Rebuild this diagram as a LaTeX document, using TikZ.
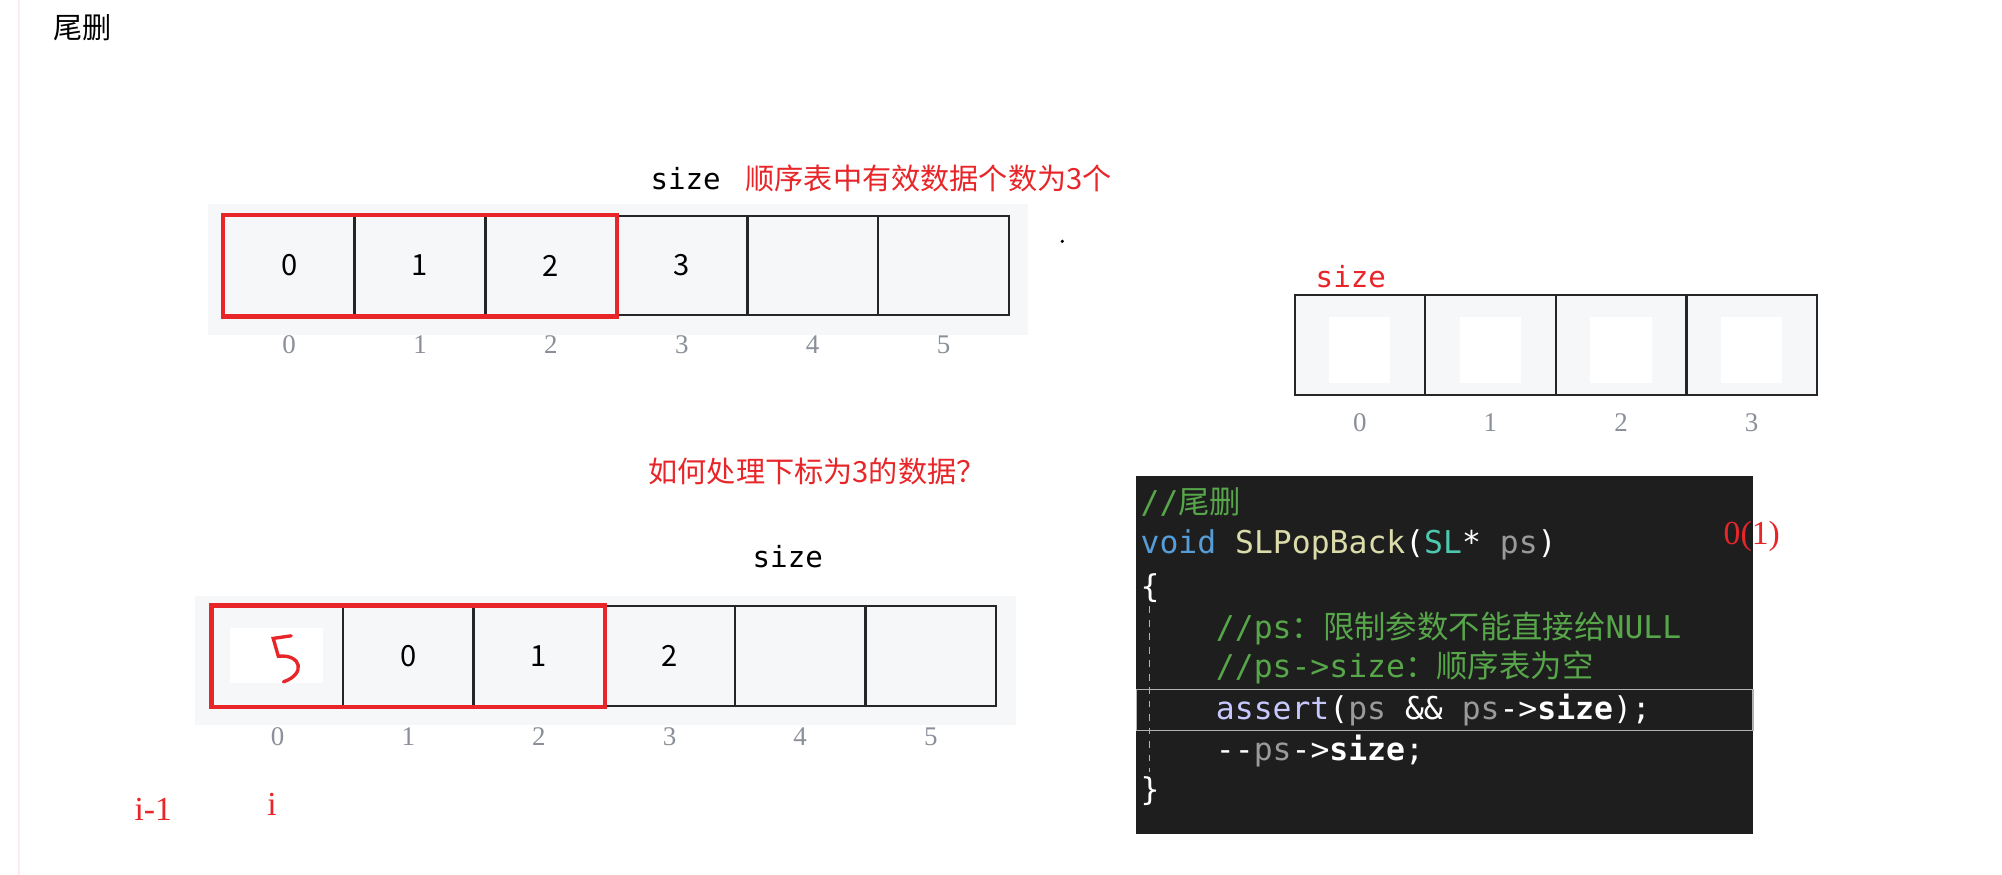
\documentclass[tikz,border=0pt]{standalone}
\usepackage{fontspec}
\setmainfont{Noto Sans CJK SC}
\setmonofont{DejaVu Sans Mono}
\newfontfamily\cjk{Noto Sans CJK SC}
\newfontfamily\serifnum{Liberation Serif}
\usetikzlibrary{positioning,calc}
\definecolor{redmark}{HTML}{E8262A}
\definecolor{cellbg}{HTML}{F6F7F9}
\definecolor{idxgray}{HTML}{8A8F99}
\definecolor{codebg}{HTML}{1E1E1E}
\definecolor{cmtgreen}{HTML}{57A64A}
\definecolor{kwblue}{HTML}{569CD6}
\definecolor{fnyellow}{HTML}{DCDCAA}
\definecolor{tyteal}{HTML}{4EC9B0}
\definecolor{parmgray}{HTML}{9A9A9A}
\definecolor{asrt}{HTML}{C8C8FF}
\tikzset{
  cell/.style={draw=black!85, line width=0.9pt, minimum width=2.04cm, minimum height=1.56cm, inner sep=0pt, font=\fontsize{13}{13}\selectfont},
  idx/.style={text=idxgray, font=\serifnum\fontsize{12}{12}\selectfont},
  redtxt/.style={text=redmark, font=\fontsize{13}{13}\selectfont},
  code/.style={anchor=west, inner sep=0pt, font=\ttfamily\fontsize{14}{14}\selectfont, text=white}
}
\begin{document}
\begin{tikzpicture}[x=0.02cm, y=-0.02cm]
\useasboundingbox (0,0) rectangle (1568,685);
\fill[white] (0,0) rectangle (1568,685);
\draw[red!8, line width=1pt] (15,0) -- (15,685);

\node (title) at (65,22) {\fontsize{13}{13}\selectfont 尾删};

% top array
\fill[cellbg] (163,160) rectangle (805,262);
\foreach \i/\v in {0/0,1/1,2/2,3/3,4/,5/} {
  \node[cell, fill=cellbg] (top\i) at (226.5+102.5*\i,208) {\v};
  \node[idx] (topi\i) at (226.5+102.5*\i,270) {\i};
}
\draw[redmark, line width=2pt] (top0.north west) rectangle (top2.south east);
\node (topsize) at (537,140) {\ttfamily\fontsize{13}{13}\selectfont size};
\node[redtxt, right=4pt of topsize] (topnote) {顺序表中有效数据个数为3个};
\fill (832,189) circle (0.8pt);

% right array
\node[redtxt, font=\ttfamily\fontsize{13}{13}\selectfont] (rsize) at (1058,217) {size};
\foreach \i in {0,1,2,3} {
  \node[cell, fill=cellbg] (r\i) at (1065+102.3*\i,270) {};
  \fill[white] ($(r\i)+(-24,-22)$) rectangle ($(r\i)+(24,30)$);
  \node[idx] (ri\i) at (1065+102.3*\i,331) {\i};
}

\node[redtxt] (question) at (640,369) {如何处理下标为3的数据？};
\node (botsize) at (617,436) {\ttfamily\fontsize{13}{13}\selectfont size};

% bottom array
\fill[cellbg] (153,467) rectangle (796,568);
\foreach \i/\v in {0/,1/0,2/1,3/2,4/,5/} {
  \node[cell, fill=cellbg] (bot\i) at (217.5+102.3*\i,514) {\v};
  \node[idx] (boti\i) at (217.5+102.3*\i,577) {\i};
}
\fill[white] (180,492) rectangle (253,535);
\draw[redmark, line width=1.5pt, line cap=round] (228,498) -- (214,500) -- (218,514) .. controls (236,512) and (240,528) .. (222,534);
\draw[redmark, line width=2pt] (bot0.north west) rectangle (bot2.south east);
\node[redtxt, font=\serifnum\fontsize{15}{15}\selectfont] (im1) at (120,634) {i-1};
\node[redtxt, font=\serifnum\fontsize{15}{15}\selectfont] (ii) at (213,630) {i};

% code
\fill[codebg] (890,373) rectangle (1373,653);
\draw[gray!60, line width=0.6pt] (890,540) rectangle (1373,572);
\draw[gray!60, dashed, line width=0.4pt] (900,475) -- (900,605);
\node[code, text=cmtgreen] (c1) at (893,393) {//\cjk 尾删};
\node[code] (c2) at (893,427) {\textcolor{kwblue}{void} \textcolor{fnyellow}{SLPopBack}(\textcolor{tyteal}{SL}* \textcolor{parmgray}{ps})};
\node[code] (c3) at (893,461) {\{};
\node[code, text=cmtgreen] (c4) at (952,492) {//ps{\cjk ：限制参数不能直接给}NULL};
\node[code, text=cmtgreen] (c5) at (952,523) {//ps->size{\cjk ：顺序表为空}};
\node[code] (c6) at (952,556) {\textcolor{asrt}{assert}(\textcolor{parmgray}{ps} \&\& \textcolor{parmgray}{ps}->\textbf{size});};
\node[code] (c7) at (952,588) {--\textcolor{parmgray}{ps}->\textbf{size};};
\node[code] (c8) at (893,620) {\}};
\node[redtxt, font=\serifnum\fontsize{15}{15}\selectfont] (cost) at (1372,420) {0(1)};
\end{tikzpicture}
\end{document}
